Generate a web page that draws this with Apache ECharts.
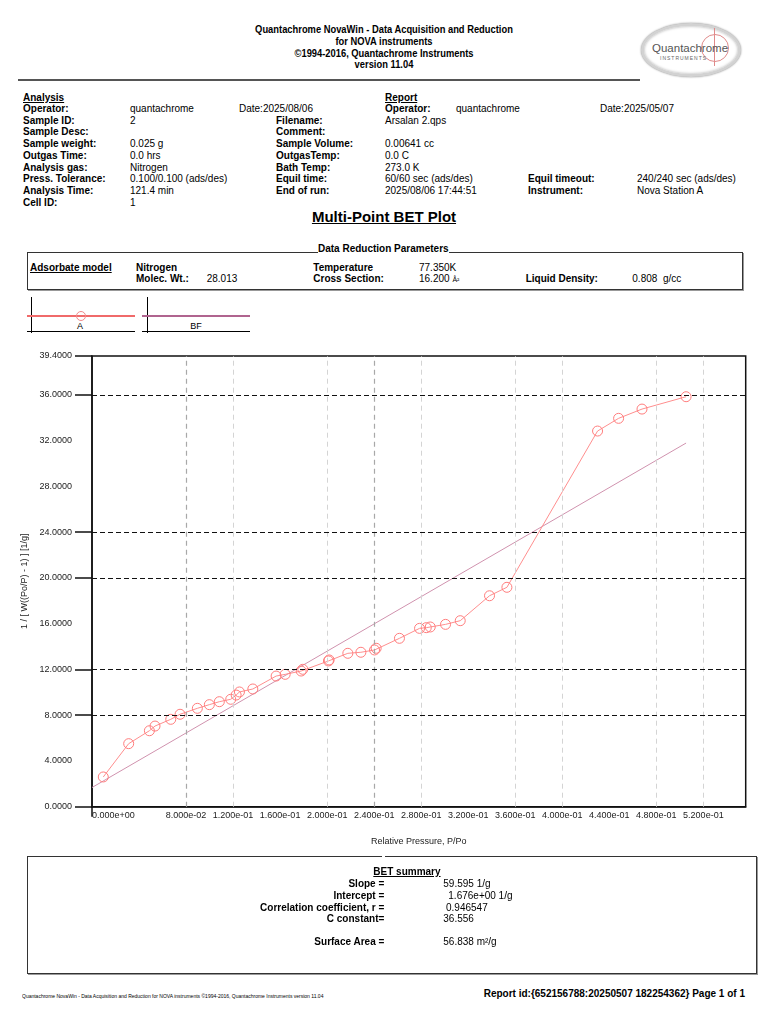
<!DOCTYPE html>
<html>
<head>
<meta charset="utf-8">
<title>Multi-Point BET Plot</title>
<script src="https://cdn.jsdelivr.net/npm/echarts@6.0.0/dist/echarts.min.js"></script>
<style>
  html, body { margin: 0; padding: 0; background: #fff; }
  body { position: relative; width: 768px; height: 1024px; overflow: hidden;
         font-family: "Liberation Sans", Arial, sans-serif; color: #000; }
  .t { position: absolute; white-space: nowrap; font-size: 10px; line-height: 12px; }
  .b { font-weight: bold; }
  .u { text-decoration: underline; }
  .head { left: 0; width: 768px; text-align: center; font-weight: bold; font-size: 11px;
          transform: scaleX(0.85); transform-origin: 384px 50%; }
  .r { text-align: right; right: 383.7px; }
  .box { position: absolute; box-sizing: border-box; border: 1.5px solid #333; box-shadow: 1px 1px 0 #999; }
  .ln { position: absolute; background: #000; }
  #chart { position: absolute; left: 0; top: 340px; width: 768px; height: 520px; }
</style>
</head>
<body>

<!-- header -->
<div class="t head" style="top:23px;">Quantachrome NovaWin - Data Acquisition and Reduction</div>
<div class="t head" style="top:35px;">for NOVA instruments</div>
<div class="t head" style="top:47px;">©1994-2016, Quantachrome Instruments</div>
<div class="t head" style="top:58px;">version 11.04</div>
<div class="ln" style="left:18px;top:79px;width:622px;height:2px;background:#555;"></div>

<!-- logo -->
<div style="position:absolute;left:641px;top:23px;width:100px;height:54px;box-sizing:border-box;border-radius:50%;border:3px solid #d2d2d2;box-shadow:0 0 2px #888, inset 0 0 3px #aaa;background:#fff;"></div>
<div style="position:absolute;left:701px;top:34px;width:26px;height:26px;border-radius:50%;border:1px solid #e08a8a;"></div>
<div style="position:absolute;left:714px;top:28px;width:1px;height:38px;background:#e08a8a;"></div>
<div class="t" style="left:652px;top:42px;font-size:11.5px;color:#555;">Quantachrome</div>
<div class="t" style="left:660px;top:52px;font-size:5px;letter-spacing:1px;color:#666;">INSTRUMENTS</div>

<!-- analysis / report -->
<div class="t b u" style="left:23px;top:91.7px;">Analysis</div>
<div class="t b u" style="left:385px;top:91.7px;">Report</div>

<div class="t b" style="left:23px;top:103px;">Operator:</div>
<div class="t" style="left:130px;top:103px;">quantachrome</div>
<div class="t" style="left:239px;top:103px;">Date:2025/08/06</div>
<div class="t b" style="left:385px;top:103px;">Operator:</div>
<div class="t" style="left:456px;top:103px;">quantachrome</div>
<div class="t" style="left:600px;top:103px;">Date:2025/05/07</div>

<div class="t b" style="left:23px;top:114.7px;">Sample ID:</div>
<div class="t" style="left:130px;top:114.7px;">2</div>
<div class="t b" style="left:276px;top:114.7px;">Filename:</div>
<div class="t" style="left:385px;top:114.7px;">Arsalan 2.qps</div>

<div class="t b" style="left:23px;top:126.4px;">Sample Desc:</div>
<div class="t b" style="left:276px;top:126.4px;">Comment:</div>

<div class="t b" style="left:23px;top:138.1px;">Sample weight:</div>
<div class="t" style="left:130px;top:138.1px;">0.025 g</div>
<div class="t b" style="left:276px;top:138.1px;">Sample Volume:</div>
<div class="t" style="left:385px;top:138.1px;">0.00641 cc</div>

<div class="t b" style="left:23px;top:149.8px;">Outgas Time:</div>
<div class="t" style="left:130px;top:149.8px;">0.0 hrs</div>
<div class="t b" style="left:276px;top:149.8px;">OutgasTemp:</div>
<div class="t" style="left:385px;top:149.8px;">0.0 C</div>

<div class="t b" style="left:23px;top:161.5px;">Analysis gas:</div>
<div class="t" style="left:130px;top:161.5px;">Nitrogen</div>
<div class="t b" style="left:276px;top:161.5px;">Bath Temp:</div>
<div class="t" style="left:385px;top:161.5px;">273.0 K</div>

<div class="t b" style="left:23px;top:173.2px;">Press. Tolerance:</div>
<div class="t" style="left:130px;top:173.2px;">0.100/0.100 (ads/des)</div>
<div class="t b" style="left:276px;top:173.2px;">Equil time:</div>
<div class="t" style="left:385px;top:173.2px;">60/60 sec (ads/des)</div>
<div class="t b" style="left:528px;top:173.2px;">Equil timeout:</div>
<div class="t" style="left:637px;top:173.2px;">240/240 sec (ads/des)</div>

<div class="t b" style="left:23px;top:184.9px;">Analysis Time:</div>
<div class="t" style="left:130px;top:184.9px;">121.4 min</div>
<div class="t b" style="left:276px;top:184.9px;">End of run:</div>
<div class="t" style="left:385px;top:184.9px;">2025/08/06 17:44:51</div>
<div class="t b" style="left:528px;top:184.9px;">Instrument:</div>
<div class="t" style="left:637px;top:184.9px;">Nova Station A</div>

<div class="t b" style="left:23px;top:196.6px;">Cell ID:</div>
<div class="t" style="left:130px;top:196.6px;">1</div>

<!-- title -->
<div class="t b u" style="left:0;width:768px;text-align:center;top:207.7px;font-size:15px;line-height:18px;">Multi-Point BET Plot</div>

<!-- data reduction parameters -->
<div class="box" style="left:26.7px;top:252px;width:716px;height:37.5px;"></div>
<div class="t b" style="left:318px;top:243px;background:#fff;">Data Reduction Parameters</div>
<div class="t b u" style="left:30px;top:261.7px;">Adsorbate model</div>
<div class="t b" style="left:136px;top:261.7px;">Nitrogen</div>
<div class="t b" style="left:136px;top:273px;">Molec. Wt.:</div>
<div class="t" style="left:206.7px;top:273px;">28.013</div>
<div class="t b" style="left:313.3px;top:261.7px;">Temperature</div>
<div class="t b" style="left:313.3px;top:273px;">Cross Section:</div>
<div class="t" style="left:419px;top:261.7px;">77.350K</div>
<div class="t" style="left:419px;top:273px;">16.200 <span style="font-size:7px;">Å²</span></div>
<div class="t b" style="left:525.7px;top:273px;">Liquid Density:</div>
<div class="t" style="left:632.3px;top:273px;">0.808&nbsp;&nbsp;g/cc</div>

<!-- legend boxes -->
<div class="ln" style="left:31.2px;top:296.7px;width:1px;height:36px;"></div>
<div class="ln" style="left:26.7px;top:315px;width:108.3px;height:2px;background:#f06a6a;"></div>
<div style="position:absolute;left:75.5px;top:310.5px;width:8px;height:8px;border-radius:50%;border:1px solid #f08a8a;"></div>
<div class="t" style="left:76px;top:320px;width:8px;text-align:center;font-size:9px;">A</div>
<div class="ln" style="left:26.7px;top:331px;width:108.3px;height:1px;"></div>

<div class="ln" style="left:147.2px;top:296.7px;width:1px;height:36px;"></div>
<div class="ln" style="left:141.7px;top:315px;width:108.3px;height:2px;background:#b0648f;"></div>
<div class="t" style="left:186px;top:320px;width:20px;text-align:center;font-size:9px;">BF</div>
<div class="ln" style="left:141.7px;top:331px;width:108.3px;height:1px;"></div>

<div id="chart"></div>

<!-- BET summary -->
<div class="box" style="left:27px;top:856px;width:730px;height:118px;"></div>
<div style="position:absolute;left:382px;top:855px;width:3px;height:3px;background:#fff;"></div>
<div class="t b u" style="left:373.3px;top:865.7px;">BET summary</div>
<div class="t b r" style="top:878.3px;">Slope =</div>
<div class="t b r" style="top:890px;">Intercept =</div>
<div class="t b r" style="top:901.7px;">Correlation coefficient, r =</div>
<div class="t b r" style="top:913.3px;">C constant=</div>
<div class="t b r" style="top:936.3px;">Surface Area =</div>
<div class="t" style="left:443.3px;top:878.3px;">59.595 1/g</div>
<div class="t" style="left:448.3px;top:890px;">1.676e+00 1/g</div>
<div class="t" style="left:446px;top:901.7px;">0.946547</div>
<div class="t" style="left:443.3px;top:913.3px;">36.556</div>
<div class="t" style="left:443.3px;top:936.3px;">56.838 m²/g</div>

<!-- footer -->
<div class="t" style="left:22px;top:990px;transform:scale(0.5);transform-origin:0 50%;">Quantachrome NovaWin - Data Acquisition and Reduction for NOVA instruments ©1994-2016, Quantachrome Instruments version 11.04</div>
<div class="t b" style="right:23px;top:988px;">Report id:{652156788:20250507 182254362} Page 1 of 1</div>

<script>
// measured points (P/Po, 1/[W((Po/P)-1)])
const pressure = [0.0096, 0.0312, 0.0488, 0.0536, 0.0670, 0.0749, 0.0896, 0.0998, 0.1083, 0.1180,
  0.1226, 0.1254, 0.1368, 0.1566, 0.1643, 0.1779, 0.1793, 0.2011, 0.2017, 0.2176,
  0.2287, 0.2403, 0.2417, 0.2615, 0.2786, 0.2843, 0.2877, 0.3007, 0.3132, 0.3381,
  0.3529, 0.4300, 0.4479, 0.4678, 0.5053];
const betValue = [2.60, 5.51, 6.64, 7.05, 7.64, 8.08, 8.60, 8.92, 9.18, 9.39,
  9.76, 10.03, 10.29, 11.42, 11.57, 11.86, 12.01, 12.74, 12.83, 13.41,
  13.50, 13.70, 13.85, 14.72, 15.59, 15.65, 15.71, 15.94, 16.26, 18.44,
  19.18, 32.84, 33.95, 34.76, 35.84];

// best fit line ends
const fitX = [0, 0.5053];
const fitY = [1.676, 31.79];

// axis ticks / guide lines
const yTickValues = [0, 8, 12, 20, 24, 36, 39.4];
const hGridLevels = [8, 12, 20, 24, 36];
const vGridDark = [0.08, 0.24];
const vGridLight = [0.12, 0.20, 0.28, 0.36, 0.40, 0.48, 0.52];
const xLabelValues = [0, 0.08, 0.12, 0.16, 0.20, 0.24, 0.28, 0.32, 0.36, 0.40, 0.44, 0.48, 0.52];

function sci(v) {
  if (Math.abs(v) < 1e-12) return '0.000e+00';
  const parts = v.toExponential(3).split('e');
  const n = parseInt(parts[1], 10);
  return parts[0] + 'e' + (n < 0 ? '-' : '+') + String(Math.abs(n)).padStart(2, '0');
}

const chart = echarts.init(document.getElementById('chart'));

chart.setOption({
  animation: false,
  textStyle: { fontFamily: '"Liberation Sans", Arial, sans-serif' },
  grid: {
    left: 92, right: 22.3, top: 16, bottom: 53.3,
    show: true, borderColor: '#111', borderWidth: 1.5
  },
  xAxis: {
    type: 'value',
    min: 0,
    max: 0.556,
    interval: 0.04,
    name: 'Relative Pressure, P/Po',
    nameLocation: 'middle',
    nameGap: 30,
    nameTextStyle: { fontSize: 9, color: '#222' },
    axisLine: { lineStyle: { color: '#111', width: 1.5 } },
    axisTick: { show: true, customValues: [0], length: 10, lineStyle: { color: '#111', width: 1.5 } },
    axisLabel: {
      customValues: xLabelValues,
      formatter: sci,
      fontSize: 9,
      color: '#222',
      margin: 4,
      alignMinLabel: 'left'
    },
    splitLine: { show: false }
  },
  yAxis: {
    type: 'value',
    min: 0,
    max: 39.4,
    interval: 4,
    name: '1 / [ W((Po/P) - 1) ] [1/g]',
    nameLocation: 'middle',
    nameGap: 54,
    nameTextStyle: { fontSize: 9, color: '#222' },
    axisLine: { lineStyle: { color: '#111', width: 1.5 } },
    axisTick: { show: true, customValues: yTickValues, length: 17, lineStyle: { color: '#111', width: 1.5 } },
    axisLabel: {
      formatter: (v) => v.toFixed(4),
      fontSize: 9,
      color: '#222',
      margin: 20,
      padding: [8, 0, 0, 0]
    },
    splitLine: { show: false }
  },
  series: [
    {
      name: 'BF',
      type: 'line',
      data: fitX.map((x, i) => [x, fitY[i]]),
      symbol: 'none',
      lineStyle: { color: '#d092ae', width: 1 },
      z: 2,
      markLine: {
        silent: true,
        symbol: 'none',
        label: { show: false },
        animation: false,
        data: [
          ...vGridLight.map(v => ({ xAxis: v, lineStyle: { color: '#d4d4d4', type: [5, 4], width: 1 } })),
          ...vGridDark.map(v => ({ xAxis: v, lineStyle: { color: '#a8a8a8', type: [5, 4], width: 1.2 } })),
          ...hGridLevels.map(v => ({ yAxis: v, lineStyle: { color: '#111', type: [5, 3], width: 1.2 } }))
        ]
      }
    },
    {
      name: 'A',
      type: 'line',
      data: pressure.map((x, i) => [x, betValue[i]]),
      symbol: 'circle',
      symbolSize: 10,
      itemStyle: { color: 'rgba(255,255,255,0)', borderColor: '#ff7c7c', borderWidth: 1 },
      lineStyle: { color: '#ff8e8e', width: 1 },
      z: 3
    }
  ]
});
</script>
</body>
</html>
